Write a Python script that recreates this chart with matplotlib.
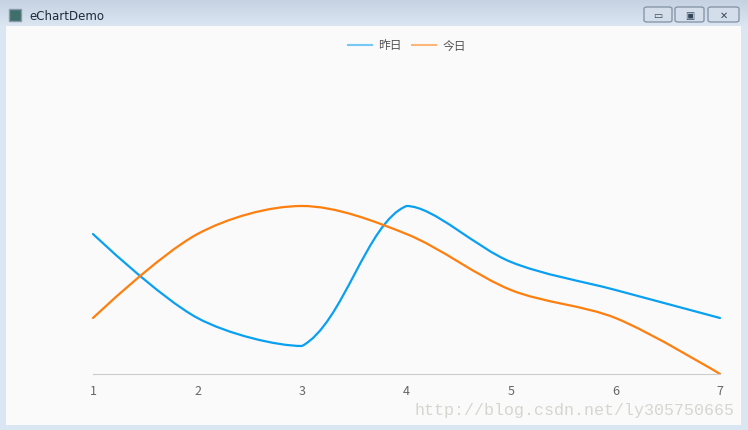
import numpy as np
import matplotlib
matplotlib.use("Agg")
import matplotlib.pyplot as plt
from matplotlib.path import Path
from matplotlib.patches import PathPatch, Rectangle, FancyBboxPatch

plt.rcParams['font.family'] = ['Noto Sans CJK SC', 'DejaVu Sans']

# data
days = [1, 2, 3, 4, 5, 6, 7]
yesterday = [5, 2, 1, 6, 4, 3, 2]
today = [2, 5, 6, 5, 3, 2, 0]
series_names = ["昨日", "今日"]
colors = ["#0aa0f2", "#ff7f0e"]
window_title = "eChartDemo"
watermark = "http://blog.csdn.net/ly305750665"

W, H = 748, 431
fig = plt.figure(figsize=(W / 100, H / 100), dpi=100)
fig.patch.set_facecolor("#dbe6f3")


def px(x0, y0, x1, y1):
    # pixel box (top-left origin) -> figure fraction rect
    return [x0 / W, 1 - y1 / H, (x1 - x0) / W, (y1 - y0) / H]


# title bar gradient
tb = fig.add_axes(px(0, 0, W, 27), zorder=-2)
grad = np.linspace(0, 1, 64).reshape(-1, 1)
top_c = np.array([0.77, 0.82, 0.88])
bot_c = np.array([0.86, 0.90, 0.95])
img = top_c + (bot_c - top_c) * grad[..., None]
tb.imshow(np.repeat(img, 2, axis=1), aspect="auto", extent=[0, 1, 0, 1])
tb.set_axis_off()

# content area
fig.patches.append(Rectangle((6 / W, 1 - 426 / H), 735 / W, 399 / H,
                             transform=fig.transFigure, facecolor="#fafafa",
                             edgecolor="none", zorder=-5))

fig.text(29 / W, 1 - 16 / H, window_title, fontsize=8.5, color="#1e2a3a",
         va="center", ha="left", family="DejaVu Sans")
# window icon
fig.patches.append(Rectangle((9 / W, 1 - 22 / H), 12 / W, 12 / H,
                             transform=fig.transFigure, facecolor="#3f6f6a",
                             edgecolor="#8a9aaa", lw=1, zorder=3))
# window buttons
for (bx0, bx1), glyph in zip([(644, 672), (675, 704), (708, 739)], ["▭", "▣", "✕"]):
    fig.patches.append(FancyBboxPatch((bx0 / W, 1 - 23 / H), (bx1 - bx0) / W, 15 / H,
                                      boxstyle="round,pad=0,rounding_size=0.004",
                                      transform=fig.transFigure,
                                      facecolor="#d3deea", edgecolor="#7f8fa3",
                                      lw=0.9, zorder=3))
    fig.text((bx0 + bx1) / 2 / W, 1 - 15.5 / H, glyph, fontsize=7, color="#34465c",
             ha="center", va="center", family="DejaVu Sans", zorder=4)

# chart
ax = fig.add_axes(px(93, 95, 720, 375), zorder=2)
ax.set_xlim(days[0], days[-1])
ax.set_ylim(0, 10)
ax.patch.set_alpha(0)
for s in ["top", "right", "left"]:
    ax.spines[s].set_visible(False)
ax.spines["bottom"].set_color("#cccccc")
ax.spines["bottom"].set_linewidth(0.8)
ax.set_yticks([])
ax.set_xticks(days)
ax.set_xticklabels([str(d) for d in days])
ax.tick_params(axis="x", length=0, pad=7, labelsize=9, labelcolor="#666666")


def smooth_path(xs, ys, smooth=0.32):
    # echarts-like bezier smoothing, control points kept inside the data bbox
    pts = ax.transData.transform(np.column_stack([xs, ys]))
    lo, hi = pts.min(axis=0), pts.max(axis=0)
    n = len(pts)
    cp_in = pts.copy()
    cp_out = pts.copy()
    for i in range(1, n - 1):
        prev, cur, nxt = pts[i - 1], pts[i], pts[i + 1]
        v = nxt - prev
        l0 = np.hypot(*(cur - prev))
        l1 = np.hypot(*(nxt - cur))
        r = l1 / (l0 + l1)
        cp_out[i] = np.clip(cur + v * smooth * r, lo, hi)
        cp_in[i] = np.clip(cur - v * smooth * (1 - r), lo, hi)
    verts = [pts[0]]
    codes = [Path.MOVETO]
    for i in range(n - 1):
        verts += [cp_out[i], cp_in[i + 1], pts[i + 1]]
        codes += [Path.CURVE4] * 3
    verts = ax.transData.inverted().transform(np.array(verts))
    return Path(verts, codes)


for vals, col in zip([yesterday, today], colors):
    ax.add_patch(PathPatch(smooth_path(days, vals), facecolor="none",
                           edgecolor=col, lw=1.6, capstyle="round",
                           joinstyle="round", clip_on=False))

# legend
for (lx, tx), name, col in zip([(348, 378), (412, 443)], series_names, colors):
    fig.add_artist(plt.Line2D([lx / W, (lx + 24) / W], [1 - 46 / H] * 2,
                              color=col, lw=1.5, alpha=0.55,
                              transform=fig.transFigure))
    fig.text(tx / W, 1 - 46 / H, name, fontsize=8.5, color="#555555",
             ha="left", va="center")

fig.text(735 / W, 1 - 411 / H, watermark, fontsize=12, color="#d6d6d0",
         ha="right", va="center", family="Liberation Mono")

fig.savefig("out.png", dpi=100, facecolor=fig.get_facecolor())
